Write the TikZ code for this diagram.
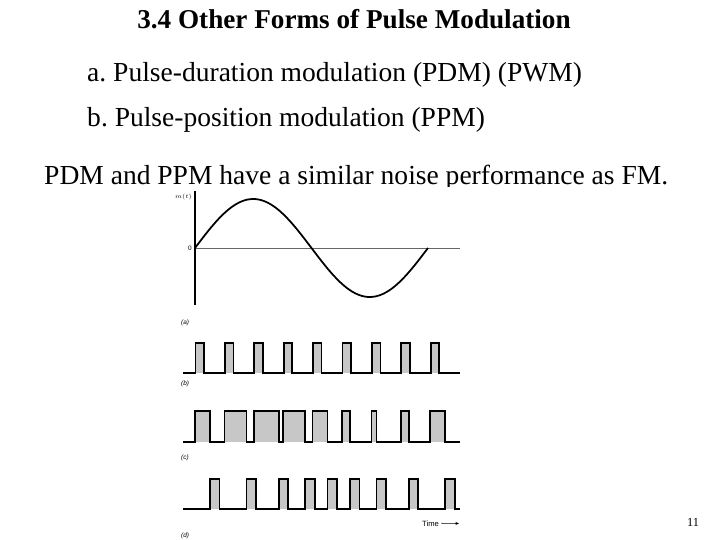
\documentclass[tikz,border=0pt]{standalone}
\usepackage{fontspec}
\setmainfont{Liberation Serif}
\setsansfont{Liberation Sans}
\usetikzlibrary{arrows.meta}
\frenchspacing

\begin{document}
\begin{tikzpicture}[
  x=0.03cm, y=-0.03cm,
  headline/.style={inner sep=0pt, font=\fontsize{23.2}{28}\selectfont\bfseries},
  bulletline/.style={inner sep=0pt, anchor=base west, font=\fontsize{23.5}{28}\selectfont},
  tag/.style={inner sep=0pt, anchor=base west, font=\sffamily\itshape\fontsize{5.5}{6}\selectfont},
  pulseline/.style={line width=1.4pt, line join=miter},
  pulsefill/.style={fill=black!22, draw=none}
]
  \useasboundingbox (0,0) rectangle (720,540);

  % slide text
  \node[headline, anchor=base] (title) at (354,29) {3.4 Other Forms of Pulse Modulation};
  \node[bulletline] (itemA) at (87,82) {a. Pulse-duration modulation (PDM) (PWM)};
  \node[bulletline] (itemB) at (87,127) {b. Pulse-position modulation (PPM)};
  \node[bulletline] (remark) at (44,185) {PDM and PPM have a similar noise performance as FM.};
  \node[inner sep=0pt, anchor=base, font=\fontsize{10.5}{12}\selectfont] (pagenum) at (693,526) {11};

  % figure background (cuts the descenders of the line above)
  \fill[white] (170,187.5) rectangle (470,540);

  % (a) message signal
  \draw[line width=0.5pt, black!60] (195,248) -- (460,248);
  \draw[line width=1pt] (195,191) -- (195,305);
  \draw[line width=1.5pt] plot[domain=0:233, samples=90] ({195+\x},{248-49*sin(1.5451*\x)});
  \node[tag, anchor=east] (mlabel) at (192,197) {$m(t)$};
  \node[inner sep=0pt, anchor=east, font=\sffamily\fontsize{5.5}{6}\selectfont] (zero) at (192,248) {0};
  \node[tag] (tagA) at (181,325) {(a)};

  % (b) sampled pulses
  \foreach \n in {0,...,8}
    \fill[pulsefill] ({195.5+29.4*\n},343) rectangle ({204+29.4*\n},373);
  \draw[pulseline] (183,373) \foreach \n in {0,...,8} {
      -- ({195.5+29.4*\n},373) -- ({195.5+29.4*\n},343)
      -- ({204+29.4*\n},343) -- ({204+29.4*\n},373) } -- (460,373);
  \node[tag] (tagB) at (181,386) {(b)};

  % (c) PDM
  \foreach \n in {0,...,8}
    \fill[pulsefill] ({195+29.4*\n},411) rectangle ({195+29.4*\n+15+10*sin(45*\n)},442);
  \draw[pulseline] (183,442) \foreach \n in {0,...,8} {
      -- ({195+29.4*\n},442) -- ({195+29.4*\n},411)
      -- ({195+29.4*\n+15+10*sin(45*\n)},411) -- ({195+29.4*\n+15+10*sin(45*\n)},442) } -- (460,442);
  \node[tag] (tagC) at (181,459) {(c)};

  % (d) PPM
  \foreach \n in {0,...,8}
    \fill[pulsefill] ({195+29.4*\n+15+10*sin(45*\n)},479) rectangle ({204.5+29.4*\n+15+10*sin(45*\n)},509);
  \draw[pulseline] (183,509) \foreach \n in {0,...,8} {
      -- ({195+29.4*\n+15+10*sin(45*\n)},509) -- ({195+29.4*\n+15+10*sin(45*\n)},479)
      -- ({204.5+29.4*\n+15+10*sin(45*\n)},479) -- ({204.5+29.4*\n+15+10*sin(45*\n)},509) } -- (460,509);
  \node[tag] (tagD) at (181,537) {(d)};

  \node[inner sep=0pt, anchor=base west, font=\sffamily\fontsize{6.5}{7}\selectfont] (timelabel) at (422,526) {Time};
  \coordinate (timeend) at (459,523.5);
  \draw[line width=0.5pt, -{Stealth[length=3pt, width=2.5pt]}] ([xshift=2pt]timelabel.east) -- (timeend);
\end{tikzpicture}
\end{document}
